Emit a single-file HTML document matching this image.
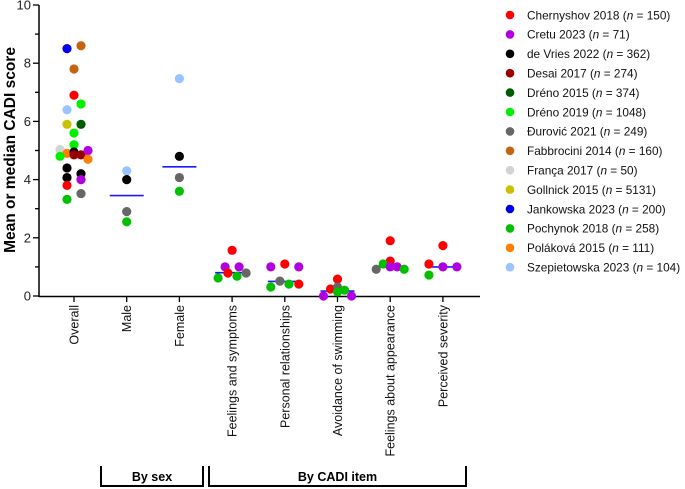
<!DOCTYPE html>
<html><head><meta charset="utf-8">
<style>
html,body{margin:0;padding:0;background:#fff;}
svg{display:block;font-family:"Liberation Sans",Arial,sans-serif;}
</style></head>
<body>
<svg id="chart" width="685" height="489" viewBox="0 0 685 489" xmlns="http://www.w3.org/2000/svg"></svg>
<script>
const categories = ["Overall","Male","Female","Feelings and symptoms","Personal relationships","Avoidance of swimming","Feelings about appearance","Perceived severity"];
const studies = ["Chernyshov 2018|150","Cretu 2023|71","de Vries 2022|362","Desai 2017|274","Dréno 2015|374","Dréno 2019|1048","Đurović 2021|249","Fabbrocini 2014|160","França 2017|50","Gollnick 2015|5131","Jankowska 2023|200","Pochynok 2018|258","Poláková 2015|111","Szepietowska 2023|104"];
const studyColors = ["#ff0000","#b000e0","#000000","#990000","#005c00","#00f000","#666666","#c46410","#d3d3d3","#c8c000","#0000ee","#00c000","#ff8000","#99c4ff"];
const medians = [4.9,3.45,4.44,0.8,0.5,0.17,1.0,1.0];
// each point: category index, study index, value
const pointCat   = [0,0,0,0,0,0,0,0,0,0,0,0,0,0,0,0,0,0,0,0,0,0,0,0,0, 1,1,1,1, 2,2,2,2, 3,3,3,3,3,3,3, 4,4,4,4,4,4,4, 5,5,5,5,5,5,5, 6,6,6,6,6,6,6, 7,7,7,7,7,7];
const pointStudy = [10,7,7,0,13,5,9,4,5,5,8,12,2,3,3,1,5,12,2,2,2,1,0,6,11, 13,2,6,11, 13,2,6,11, 0,1,1,0,6,11,11, 1,1,0,6,11,11,0, 0,0,6,11,11,1,1, 0,0,11,6,1,1,11, 0,0,11,1,1,11];
const pointVal   = [8.5,8.6,7.8,6.9,6.4,6.6,5.9,5.9,5.6,5.2,5.03,4.9,4.95,4.85,4.85,5.0,4.8,4.7,4.4,4.07,4.2,4.0,3.8,3.52,3.32, 4.3,4.0,2.9,2.55, 7.47,4.8,4.07,3.6, 1.57,1.0,1.0,0.79,0.79,0.62,0.68, 1.0,1.0,1.1,0.51,0.31,0.41,0.41, 0.58,0.24,0.31,0.2,0.14,0.0,0.0, 1.9,1.2,1.1,0.92,1.0,1.0,0.92, 1.73,1.1,0.72,1.0,1.0];
const pointJitter= [-1,1,0,0,-1,1,-1,1,0,0,-2,-1,0,0,1,2,-2,2,-1,-1,1,1,-1,1,-1, 0,0,0,0, 0,0,0,0, 0,-1,1,-0.6,2,-2,0.7, -2,2,0,-0.7,-2,0.6,2, 0,-1,0,1,0,-2,2, 0,0,-1,-2,0,1,2, 0,-2,-2,0,2];
const yTicks = [0,2,4,6,8,10];

const svg = document.getElementById('chart');
const NS = 'http://www.w3.org/2000/svg';
function mk(tag, attrs, parent){const e=document.createElementNS(NS,tag);for(const k in attrs)e.setAttribute(k,attrs[k]);(parent||svg).appendChild(e);return e;}
const x0=74, dx=52.7, y0=296, yUnit=29.1;
const xPos=i=>x0+i*dx;
const yPos=v=>y0-v*yUnit;

// y axis
let g=mk('g',{});


mk('line',{x1:39,y1:yPos(10),x2:39,y2:y0+1,stroke:'#000','stroke-width':1.5},g);
for(let v=0;v<=10;v++){
  const major=v%2===0;
  mk('line',{x1:major?33:35,y1:yPos(v),x2:39,y2:yPos(v),stroke:'#000','stroke-width':1.3},g);
}
yTicks.forEach(t=>{
  const tx=mk('text',{x:31,y:yPos(t)+4.5,'text-anchor':'end','font-size':13,fill:'#222'},g);
  tx.textContent=t;
  
  
});
const yt=mk('text',{x:0,y:0,transform:'translate(15,150) rotate(-90)','text-anchor':'middle','font-size':15.5,'font-weight':'bold'});
yt.textContent='Mean or median CADI score';



// x axis
g=mk('g',{});


mk('line',{x1:39,y1:y0+0.5,x2:480,y2:y0+0.5,stroke:'#000','stroke-width':1.5},g);
categories.forEach((c,i)=>{
  mk('line',{x1:xPos(i),y1:y0,x2:xPos(i),y2:y0+6,stroke:'#000','stroke-width':1.3},g);
  const t=mk('text',{x:0,y:0,transform:`translate(${xPos(i)+4.5},305) rotate(-90)`,'text-anchor':'end','font-size':12.5,fill:'#111'},g);
  t.textContent=c;
  
  
});

// medians
medians.forEach((m,i)=>{
  const l=mk('line',{x1:xPos(i)-17,y1:yPos(m),x2:xPos(i)+17,y2:yPos(m),stroke:'#1a1aff','stroke-width':1.6});
  
  
});

// points
pointVal.forEach((v,k)=>{
  const c=mk('circle',{cx:xPos(pointCat[k])+pointJitter[k]*7,cy:yPos(v),r:4.6,fill:studyColors[pointStudy[k]]});
  
  
});

// legend
studies.forEach((s,i)=>{
  const [name,n]=s.split('|');
  const lg=mk('g',{});
  
  
  const y=15+i*19.4;
  mk('circle',{cx:510,cy:y,r:4.3,fill:studyColors[i]},lg);
  const t=mk('text',{x:527,y:y+4.3,'font-size':11.8,fill:'#111'},lg);
  t.appendChild(document.createTextNode(name+' ('));
  const it=mk('tspan',{'font-style':'italic'},t);it.textContent='n';
  t.appendChild(document.createTextNode(' = '+n+')'));
});

// brackets
function bracket(xa,xb,label,name){
  const bg=mk('g',{});
  
  
  mk('path',{d:`M${xa},466 V486 H${xb} V466`,fill:'none',stroke:'#000','stroke-width':2},bg);
  const t=mk('text',{x:(xa+xb)/2,y:481,'text-anchor':'middle','font-size':12.5,'font-weight':'bold'},bg);
  t.textContent=label;
}
bracket(101,203,'By sex','by-sex-bracket');
bracket(209,466,'By CADI item','by-cadi-item-bracket');
</script>
</body></html>
